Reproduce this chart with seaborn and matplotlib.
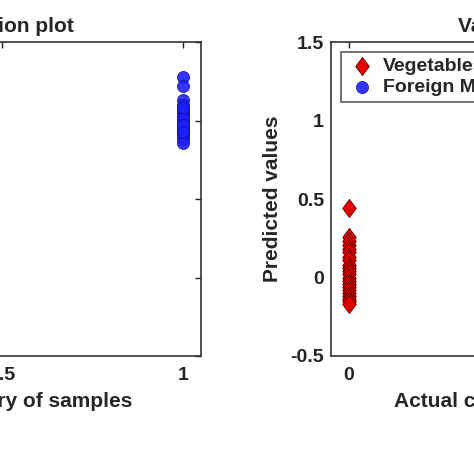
import numpy as np
import pandas as pd
import seaborn as sns
import matplotlib.pyplot as plt

# predicted values (class 0 = vegetables, class 1 = foreign matter)
cal_veg = [0.02, 0.10, -0.05, 0.15, -0.12, 0.08, 0.00, -0.08, 0.20, 0.05]
cal_fm = [1.28, 1.22, 1.13, 1.10, 1.07, 1.05, 1.03, 1.00, 0.98, 0.96,
          0.94, 0.92, 0.90, 0.88, 0.86, 1.08, 1.01, 0.97, 0.93]
val_veg = [0.44, 0.26, 0.23, 0.21, 0.18, 0.16, 0.13, 0.11, 0.08, 0.06,
           0.04, 0.02, 0.00, -0.02, -0.04, -0.06, -0.08, -0.10, -0.12,
           -0.14, -0.15, -0.17]
val_fm = [1.05, 0.98, 1.12, 0.92, 1.01]

classes = ['Vegetables', 'Foreign Matters']
titles = ['Calibration plot', 'Validation plot']

sns.set_style('white')
plt.rcParams['font.family'] = ['Liberation Sans', 'DejaVu Sans']
plt.rcParams['font.weight'] = 'bold'

diamond = [(0, 1), (0.75, 0), (0, -1), (-0.75, 0), (0, 1)]


def make_df(veg, fm):
    return pd.DataFrame({
        'actual': [0] * len(veg) + [1] * len(fm),
        'pred': veg + fm,
        'cls': [classes[0]] * len(veg) + [classes[1]] * len(fm),
    })


fig = plt.figure(figsize=(4.74, 4.74), dpi=100)
# the picture is a crop: left panel runs off the left edge, right panel off the right
ax1 = fig.add_axes([-0.4388, 0.249, 0.8629, 0.662])
ax2 = fig.add_axes([0.698, 0.249, 0.8397, 0.662])

panels = [(ax1, cal_veg, cal_fm, (-0.08, 1.05)), (ax2, val_veg, val_fm, (-0.05, 1.05))]
for (ax, veg, fm, xlim), title in zip(panels, titles):
    df = make_df(veg, fm)
    d0 = df[df['cls'] == classes[0]]
    d1 = df[df['cls'] == classes[1]]
    sns.scatterplot(data=d0, x='actual', y='pred', ax=ax, marker=diamond, s=170,
                    color='#e80000', edgecolor='#5a0000', linewidth=0.6, label=classes[0])
    sns.scatterplot(data=d1, x='actual', y='pred', ax=ax, marker='o', s=75,
                    color='#1f1fff', edgecolor='#10108a', linewidth=0.6, alpha=0.9,
                    label=classes[1])
    ax.set_xlim(*xlim)
    ax.set_ylim(-0.5, 1.5)
    ax.set_xticks([0, 0.5, 1])
    ax.set_xticklabels(['0', '0.5', '1'])
    ax.set_yticks([-0.5, 0, 0.5, 1, 1.5])
    ax.set_yticklabels(['-0.5', '0', '0.5', '1', '1.5'])
    ax.tick_params(direction='in', length=4, width=1, top=True, right=True,
                   labelsize=14, colors='#222222')
    ax.tick_params(axis='x', pad=8)
    ax.tick_params(axis='y', pad=5)
    for sp in ax.spines.values():
        sp.set_color('#333333')
        sp.set_linewidth(1.2)
    ax.set_title(title, fontsize=15, fontweight='bold', pad=7)
    ax.set_xlabel('Actual category of samples', fontsize=15, fontweight='bold', labelpad=6)
    ax.set_ylabel('Predicted values', fontsize=15, fontweight='bold', labelpad=6)

ax1.get_legend().remove()
leg = ax2.legend(loc='upper left', fontsize=14, frameon=True, fancybox=False,
                 edgecolor='#333333', borderpad=0.3, handlelength=1.6, handletextpad=0.3,
                 labelspacing=0.15, borderaxespad=0.5)
leg.get_frame().set_linewidth(1.2)

fig.savefig('out.png', dpi=100)
